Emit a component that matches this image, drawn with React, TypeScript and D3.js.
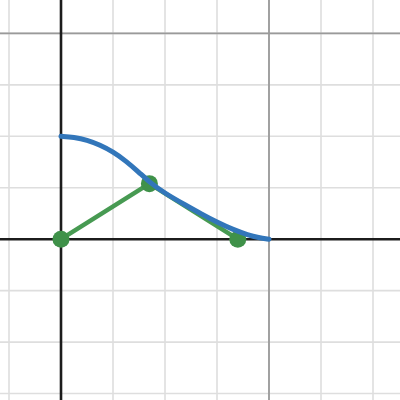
import React from "react";
import * as d3 from "d3";

const curveX = [0, 0.25, 0.5, 0.75, 1, 1.25, 1.5, 1.7, 2, 2.4, 2.7, 3, 3.3, 3.6, 3.8, 4];
const curveY = [2, 1.98, 1.93, 1.83, 1.7, 1.52, 1.3, 1.11, 0.89, 0.66, 0.49, 0.33, 0.19, 0.08, 0.03, 0];

// Green polyline and points
const triX = [0, 1.7, 3.4];
const triY = [0, 1.08, 0];

// Grid ticks
const minorX = [-1, 0, 1, 2, 3, 4, 5, 6, 7];
const minorY = [-4, -3, -2, -1, 0, 1, 2, 3, 4, 5];
const majorX = [4];
const majorY = [4];

const W = 400;
const H = 400;

export default function App() {
  const x = d3.scaleLinear().domain([0, 4]).range([61, 269]);
  const y = d3.scaleLinear().domain([0, 4]).range([239.2, 33.4]);

  const curvePts: [number, number][] = curveX.map((v, i) => [v, curveY[i]]);
  const triPts: [number, number][] = triX.map((v, i) => [v, triY[i]]);

  const blue = d3
    .line<[number, number]>()
    .x((d) => x(d[0]))
    .y((d) => y(d[1]))
    .curve(d3.curveBasis)(curvePts) || "";
  const green = d3
    .line<[number, number]>()
    .x((d) => x(d[0]))
    .y((d) => y(d[1]))(triPts) || "";

  return (
    <svg
      width={W}
      height={H}
      style={{ position: "absolute", left: 0, top: 0, background: "#fff" }}
    >
      <rect x={0} y={0} width={W} height={H} fill="#fff" />
      <g>
        {minorX.map((v) => (
          <line key={"mx" + v} x1={x(v)} x2={x(v)} y1={0} y2={H} stroke="#dedede" strokeWidth={1.6} />
        ))}
        {minorY.map((v) => (
          <line key={"my" + v} y1={y(v)} y2={y(v)} x1={0} x2={W} stroke="#dedede" strokeWidth={1.6} />
        ))}
        {majorX.map((v) => (
          <line key={"Mx" + v} x1={x(v)} x2={x(v)} y1={0} y2={H} stroke="#9a9a9a" strokeWidth={1.8} />
        ))}
        {majorY.map((v) => (
          <line key={"My" + v} y1={y(v)} y2={y(v)} x1={0} x2={W} stroke="#9a9a9a" strokeWidth={1.8} />
        ))}
      </g>
      <g>
        <line x1={x(0)} x2={x(0)} y1={0} y2={H} stroke="#1c1c1c" strokeWidth={2.6} />
        <line y1={y(0)} y2={y(0)} x1={0} x2={W} stroke="#1c1c1c" strokeWidth={2.6} />
      </g>
      <path d={green} fill="none" stroke="#479a52" strokeWidth={4.5} strokeLinecap="round" strokeLinejoin="round" />
      {triPts.map((d, i) => (
        <circle key={i} cx={x(d[0])} cy={y(d[1])} r={8.5} fill="#3f9149" />
      ))}
      <path d={blue} fill="none" stroke="#3276ba" strokeWidth={5} strokeLinecap="round" strokeLinejoin="round" />
    </svg>
  );
}
